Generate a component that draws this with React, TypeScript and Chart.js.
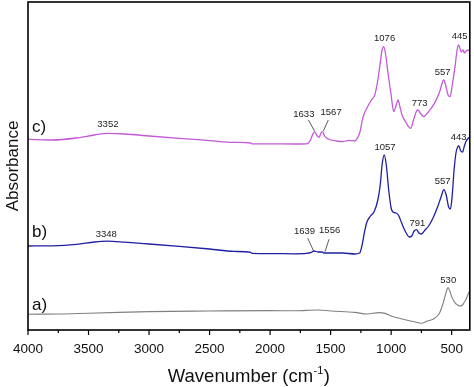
import React, { useEffect, useRef } from 'react';
import { Chart, registerables } from 'chart.js';

Chart.register(...registerables);

// Spectrum a) (grey)
const waveA = [4000, 3750, 3500, 3250, 3000, 2500, 2000, 1800, 1600, 1500, 1300, 1200, 1100, 1050, 1000, 900, 800, 750, 700, 650, 600, 570, 545, 530, 515, 500, 470, 450, 430, 410, 400, 380, 360, 350];
const absA = [0.079, 0.080, 0.084, 0.088, 0.092, 0.095, 0.097, 0.096, 0.100, 0.095, 0.088, 0.080, 0.087, 0.083, 0.070, 0.054, 0.040, 0.034, 0.045, 0.055, 0.085, 0.135, 0.190, 0.212, 0.195, 0.167, 0.134, 0.125, 0.120, 0.125, 0.135, 0.155, 0.185, 0.195];

// Spectrum b) (blue)
const waveB = [4000, 3800, 3600, 3450, 3348, 3200, 3000, 2750, 2500, 2300, 2160, 2150, 2000, 1800, 1700, 1660, 1639, 1600, 1570, 1556, 1500, 1400, 1300, 1260, 1240, 1220, 1200, 1170, 1140, 1110, 1090, 1075, 1057, 1040, 1020, 1000, 985, 960, 940, 910, 880, 850, 830, 810, 791, 770, 750, 720, 690, 650, 615, 585, 565, 545, 525, 510, 495, 480, 463, 450, 440, 425, 410, 395, 380, 360, 350];
const absB = [0.420, 0.421, 0.428, 0.440, 0.444, 0.439, 0.430, 0.418, 0.405, 0.393, 0.388, 0.383, 0.382, 0.381, 0.383, 0.388, 0.395, 0.390, 0.390, 0.385, 0.385, 0.385, 0.380, 0.385, 0.425, 0.490, 0.540, 0.570, 0.592, 0.650, 0.725, 0.825, 0.875, 0.825, 0.700, 0.610, 0.590, 0.585, 0.575, 0.530, 0.490, 0.465, 0.470, 0.495, 0.502, 0.485, 0.480, 0.500, 0.520, 0.565, 0.617, 0.670, 0.702, 0.675, 0.615, 0.605, 0.675, 0.800, 0.890, 0.915, 0.920, 0.895, 0.890, 0.920, 0.945, 0.960, 0.965];

// Spectrum c) (magenta)
const waveC = [4000, 3800, 3600, 3450, 3350, 3200, 3000, 2750, 2500, 2300, 2160, 2150, 2000, 1800, 1700, 1670, 1650, 1633, 1610, 1595, 1580, 1567, 1550, 1520, 1450, 1400, 1350, 1300, 1280, 1260, 1231, 1200, 1163, 1135, 1110, 1094, 1075, 1061, 1045, 1026, 1000, 979, 960, 943, 925, 910, 880, 860, 839, 815, 790, 779, 760, 730, 700, 642, 600, 575, 565, 550, 530, 512, 495, 472, 455, 442, 430, 420, 405, 395, 380, 362, 350];
const absC = [0.954, 0.950, 0.960, 0.975, 0.983, 0.980, 0.970, 0.958, 0.947, 0.938, 0.935, 0.931, 0.931, 0.930, 0.931, 0.945, 0.975, 0.992, 0.970, 0.963, 0.985, 0.992, 0.970, 0.955, 0.945, 0.942, 0.948, 0.945, 0.958, 0.985, 1.067, 1.110, 1.150, 1.175, 1.250, 1.317, 1.400, 1.417, 1.375, 1.285, 1.175, 1.092, 1.120, 1.150, 1.110, 1.075, 1.040, 1.020, 1.008, 1.050, 1.095, 1.100, 1.085, 1.067, 1.085, 1.133, 1.190, 1.240, 1.250, 1.225, 1.175, 1.167, 1.225, 1.317, 1.400, 1.425, 1.405, 1.390, 1.400, 1.385, 1.395, 1.400, 1.390];

const majorTicks = [4000, 3500, 3000, 2500, 2000, 1500, 1000, 500];
const minorTicks = [3750, 3250, 2750, 2250, 1750, 1250, 750];

// Peak annotations: text, wavenumber position, absorbance position
const peakTexts = ['1076', '445', '557', '773', '1633', '1567', '3352', '1057', '443', '557', '791', '1639', '1556', '3348', '530'];
const peakWaves = [1054, 434, 574, 765, 1721, 1496, 3340, 1050, 442, 574, 783, 1716, 1508, 3353, 528];
const peakAbs = [1.459, 1.467, 1.287, 1.134, 1.079, 1.087, 1.027, 0.914, 0.964, 0.742, 0.534, 0.492, 0.500, 0.480, 0.247];

// Leader lines: [wave1, abs1, wave2, abs2]
const leaderLines = [
  [1683, 1.05, 1633, 0.995],
  [1519, 1.05, 1560, 0.995],
  [1689, 0.459, 1642, 0.397],
  [1513, 0.454, 1546, 0.392],
];

const seriesNames = ['a)', 'b)', 'c)'];
const seriesLabelAbs = [0.125, 0.49, 1.015];
const seriesLabelWave = 3967;

const FONT = '"Liberation Sans", Arial, Helvetica, sans-serif';

const decorPlugin = {
  id: 'decor',
  afterDraw(chart: any) {
    const { ctx, chartArea } = chart;
    const { left, right, top, bottom } = chartArea;
    const xs = chart.scales.x;
    const ys = chart.scales.y;
    ctx.save();
    // frame
    ctx.strokeStyle = '#000';
    ctx.lineWidth = 1.6;
    ctx.strokeRect(left, top, right - left, bottom - top);
    // ticks
    ctx.lineWidth = 1.2;
    ctx.beginPath();
    majorTicks.forEach((v) => {
      const px = xs.getPixelForValue(v);
      ctx.moveTo(px, bottom);
      ctx.lineTo(px, bottom + 5);
    });
    minorTicks.forEach((v) => {
      const px = xs.getPixelForValue(v);
      ctx.moveTo(px, bottom);
      ctx.lineTo(px, bottom + 3);
    });
    ctx.stroke();

    // peak labels
    ctx.fillStyle = '#222';
    ctx.font = `9.5px ${FONT}`;
    ctx.textAlign = 'center';
    ctx.textBaseline = 'middle';
    peakTexts.forEach((t, i) => {
      ctx.fillText(t, xs.getPixelForValue(peakWaves[i]), ys.getPixelForValue(peakAbs[i]));
    });
    // leader lines
    ctx.strokeStyle = '#333';
    ctx.lineWidth = 0.8;
    ctx.beginPath();
    leaderLines.forEach((l) => {
      ctx.moveTo(xs.getPixelForValue(l[0]), ys.getPixelForValue(l[1]));
      ctx.lineTo(xs.getPixelForValue(l[2]), ys.getPixelForValue(l[3]));
    });
    ctx.stroke();

    // series labels
    ctx.fillStyle = '#111';
    ctx.font = `17px ${FONT}`;
    ctx.textAlign = 'left';
    seriesNames.forEach((t, i) => {
      ctx.fillText(t, xs.getPixelForValue(seriesLabelWave), ys.getPixelForValue(seriesLabelAbs[i]));
    });

    // y axis title
    ctx.save();
    ctx.translate(13, (top + bottom) / 2);
    ctx.rotate(-Math.PI / 2);
    ctx.font = `17px ${FONT}`;
    ctx.textAlign = 'center';
    ctx.textBaseline = 'middle';
    ctx.fillText('Absorbance', 0, 0);
    ctx.restore();

    // x axis title with superscript
    const main = 'Wavenumber (cm';
    const sup = '-1';
    const close = ')';
    ctx.font = `18.5px ${FONT}`;
    const w1 = ctx.measureText(main).width;
    const w3 = ctx.measureText(close).width;
    ctx.font = `11px ${FONT}`;
    const w2 = ctx.measureText(sup).width;
    const total = w1 + w2 + w3 + 1;
    const cx = (left + right) / 2;
    let x0 = cx - total / 2;
    const base = 382;
    ctx.textAlign = 'left';
    ctx.textBaseline = 'alphabetic';
    ctx.font = `18.5px ${FONT}`;
    ctx.fillText(main, x0, base);
    x0 += w1;
    ctx.font = `11px ${FONT}`;
    ctx.fillText(sup, x0 + 0.5, base - 8);
    x0 += w2 + 1;
    ctx.font = `18.5px ${FONT}`;
    ctx.fillText(close, x0, base);
    ctx.restore();
  },
};

function toPoints(xs: number[], ys: number[]) {
  return xs.map((x, i) => ({ x, y: ys[i] }));
}

export default function App() {
  const ref = useRef<HTMLCanvasElement | null>(null);
  useEffect(() => {
    document.body.style.margin = '0';
    if (!ref.current) return;
    const chart = new Chart(ref.current, {
      type: 'line',
      data: {
        datasets: [
          { label: 'a', data: toPoints(waveA, absA), borderColor: '#808080', borderWidth: 1.1, pointRadius: 0, cubicInterpolationMode: 'monotone', fill: false },
          { label: 'b', data: toPoints(waveB, absB), borderColor: '#1f1fa3', borderWidth: 1.3, pointRadius: 0, cubicInterpolationMode: 'monotone', fill: false },
          { label: 'c', data: toPoints(waveC, absC), borderColor: '#c35ad6', borderWidth: 1.3, pointRadius: 0, cubicInterpolationMode: 'monotone', fill: false },
        ],
      },
      options: {
        responsive: false,
        animation: false,
        events: [],
        layout: { padding: { left: 28, right: 2, top: 2, bottom: 0 } },
        plugins: { legend: { display: false }, tooltip: { enabled: false }, title: { display: false } },
        scales: {
          x: {
            type: 'linear',
            reverse: true,
            min: 350,
            max: 4000,
            grid: { display: false, drawTicks: false, tickLength: 0 },
            border: { display: false },
            afterBuildTicks: (scale: any) => {
              scale.ticks = majorTicks.map((v) => ({ value: v }));
            },
            afterFit: (scale: any) => {
              scale.height = 57;
            },
            ticks: {
              padding: 11,
              color: '#111',
              font: { family: FONT, size: 13.5 },
              maxRotation: 0,
              autoSkip: false,
              callback: (v: any) => String(v),
            },
          },
          y: {
            display: false,
            min: 0,
            max: 1.64,
          },
        },
      },
      plugins: [decorPlugin],
    } as any);
    return () => chart.destroy();
  }, []);
  return (
    <div style={{ width: 474, height: 387, background: '#fff' }}>
      <canvas ref={ref} width={474} height={387} />
    </div>
  );
}
